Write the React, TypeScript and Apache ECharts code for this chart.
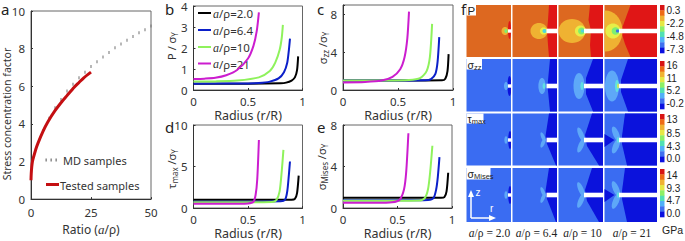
import React, { useEffect, useRef } from "react";
import * as echarts from "echarts";

const FONT = "Noto Sans";
const FFONT = "Liberation Sans";
const INK = "#333";

// Panel a
const mdRatio = [0,0.5,1,2,3.5,5,7.5,10,12.5,15,17.5,20,22.5,25,27.5,30,32.5,35,37.5,40,42.5,45,47.5,50];
const mdFactor = [1.1,1.9,2.2,2.65,3.15,3.65,4.3,4.85,5.3,5.75,6.1,6.45,6.75,7.05,7.3,7.55,7.8,8.05,8.25,8.45,8.65,8.85,9.0,9.2];
const testedRatio = [0,0.1,0.3,0.6,1,2,3,5,7,10,13,15,18,20,22,25];
const testedFactor = [1,1.35,1.7,2,2.2,2.65,3.0,3.6,4.1,4.7,5.2,5.5,5.95,6.2,6.45,6.75];

// Panels b-e: radius, value
const bBlack = [[0,0.3],[0.5,0.3],[0.8,0.32],[0.85,0.35],[0.9,0.45],[0.93,0.6],[0.95,0.95],[0.96,1.6]];
const bBlue = [[0,0.3],[0.5,0.31],[0.6,0.33],[0.7,0.4],[0.78,0.55],[0.83,0.85],[0.86,1.3],[0.875,1.9],[0.885,2.45]];
const bGreen = [[0,0.4],[0.2,0.41],[0.4,0.45],[0.6,0.6],[0.7,0.9],[0.75,1.3],[0.79,1.9],[0.81,2.5],[0.82,3.1]];
const bMagenta = [[0,0.52],[0.1,0.54],[0.2,0.58],[0.3,0.7],[0.4,0.95],[0.5,1.5],[0.55,2.1],[0.58,2.8],[0.6,3.7]];

const cBlack = [[0,1],[0.5,1],[0.9,1.02],[0.93,1.2],[0.95,2],[0.96,3.8]];
const cBlue = [[0,1],[0.5,1],[0.75,1.03],[0.8,1.15],[0.84,1.7],[0.86,3],[0.875,5.6]];
const cGreen = [[0,1],[0.4,1],[0.6,1.05],[0.7,1.25],[0.76,2],[0.79,3.5],[0.81,7]];
const cMagenta = [[0,0.8],[0.2,0.85],[0.35,1],[0.45,1.4],[0.52,2.2],[0.56,3.5],[0.585,5.5],[0.6,8.3]];

const dBlack = [[0,1],[0.5,1],[0.9,1],[0.93,1.1],[0.95,1.8],[0.965,3.9]];
const dBlue = [[0,0.75],[0.5,0.76],[0.8,0.8],[0.84,1],[0.86,2],[0.875,4],[0.885,5.6]];
const dGreen = [[0,0.7],[0.4,0.7],[0.72,0.73],[0.76,0.95],[0.79,2],[0.81,4.5],[0.825,7]];
const dMagenta = [[0,0.5],[0.3,0.5],[0.5,0.55],[0.55,0.75],[0.57,1.6],[0.585,3.5],[0.6,8.2]];

const eBlack = [[0,1],[0.5,1],[0.9,1],[0.93,1.05],[0.95,1.6],[0.965,3.4]];
const eBlue = [[0,0.75],[0.5,0.75],[0.78,0.78],[0.83,0.95],[0.855,1.8],[0.87,3],[0.885,4.9]];
const eGreen = [[0,0.7],[0.4,0.7],[0.7,0.72],[0.75,0.95],[0.78,1.8],[0.8,3.5],[0.82,6]];
const eMagenta = [[0,0.5],[0.3,0.5],[0.45,0.55],[0.52,0.8],[0.56,1.8],[0.58,3.5],[0.6,7.2]];

const ratioLabels = ["2.0", "6.4", "10", "21"];
const barLabels = [
  ["0.3", "-2.2", "-4.8", "-7.3"],
  ["16", "11", "5.2", "-0.2"],
  ["13", "8.5", "4.3", "0.0"],
  ["14", "9.3", "4.7", "0.0"],
];

const curveColors = ["#000000", "#0b1fc9", "#8ff25c", "#cc1dcf"];
const bands = ["#d81414", "#ee6a16", "#f0b232", "#e6e844", "#8ef064", "#50e0b4", "#50b0f8", "#4070f0", "#0a10e0"];

const ORANGE = "#dd6820", RED = "#e01616", YEL = "#efb232", LIME = "#e6ee48", GRN = "#7fee70", CY = "#50d8d8";
const BLUE = "#3a6cf2", DARK = "#0b12dc", SKY = "#5ea8f8", AQUA = "#5fe0e0";

const colsX = [[466.5, 511], [512.5, 557], [558.5, 603], [604.5, 657]];
const rowsY = [[5, 57], [59, 111.5], [113.5, 165.5], [168, 222]];
const crackY = [31, 86, 140, 195];
const tipX = [508, 546.5, 584, 619];

type Box = { x0: number; x1: number; y0: number; y1: number };
const clamp = (v: number, a: number, b: number) => Math.max(a, Math.min(b, v));
const poly = (points: number[][], fill: string) => ({ type: "polygon", silent: true, shape: { points }, style: { fill } });
const ell = (b: Box, cx: number, cy: number, rx: number, ry: number, fill: string, rot = 0) => {
  const pts: number[][] = [];
  const c = Math.cos(rot), s = Math.sin(rot);
  for (let i = 0; i < 36; i++) {
    const t = (i / 36) * Math.PI * 2;
    const ex = rx * Math.cos(t), ey = ry * Math.sin(t);
    pts.push([clamp(cx + ex * c - ey * s, b.x0, b.x1), clamp(cy + ex * s + ey * c, b.y0, b.y1)]);
  }
  return poly(pts, fill);
};
const region = (b: Box, edge: number[][], fill: string) =>
  poly([...edge, [b.x1, b.y1], [b.x1, b.y0]], fill);

function cellElements(r: number, c: number) {
  const b: Box = { x0: colsX[c][0], x1: colsX[c][1], y0: rowsY[r][0], y1: rowsY[r][1] };
  const cy = crackY[r], tx = tipX[c];
  const out: any[] = [];
  out.push({ type: "rect", silent: true, shape: { x: b.x0, y: b.y0, width: b.x1 - b.x0, height: b.y1 - b.y0 }, style: { fill: r === 0 ? ORANGE : BLUE } });
  if (r === 0) {
    if (c === 0) {
      out.push(ell(b, 509.5, cy - 1, 1.5, 9, RED));
      out.push(ell(b, 505, cy, 3.5, 4, YEL));
      out.push(ell(b, 506, cy, 1.6, 2, GRN));
    } else if (c === 1) {
      out.push(region(b, [[549, b.y0], [548, 20], [547, cy], [548, 45], [549, b.y1]], RED));
      out.push(ell(b, 539, cy, 8.5, 8, YEL));
      out.push(ell(b, 543.5, cy, 3.6, 3.6, LIME));
      out.push(ell(b, 544.5, cy, 2, 2, CY));
    } else if (c === 2) {
      out.push(region(b, [[590, b.y0], [588.5, 20], [591, cy], [590, 45], [591, b.y1]], RED));
      out.push(ell(b, 572, cy, 13.5, 12, YEL));
      out.push(ell(b, 580.5, cy, 5.6, 5.6, LIME));
      out.push(ell(b, 581.5, cy, 3.4, 3.4, GRN));
      out.push(ell(b, 582.5, cy, 1.6, 1.6, CY));
    } else {
      out.push(region(b, [[630.5, b.y0], [625, 20], [621, cy], [625, 44], [630.5, b.y1]], RED));
      out.push(ell(b, 605.5, cy, 17, 20.5, YEL));
      out.push(ell(b, 613, cy, 7.5, 7.5, LIME));
      out.push(ell(b, 615.5, cy, 3.8, 3.8, GRN));
      out.push(ell(b, 617.5, cy, 1.6, 1.6, "#3a70e8"));
    }
  } else if (r === 1) {
    if (c === 0) {
      out.push(ell(b, 509.5, cy, 2, 10, DARK));
      out.push(ell(b, 506, cy, 2, 4, SKY));
    } else if (c === 1) {
      out.push(region(b, [[550, b.y0], [547.5, cy], [550, b.y1]], DARK));
      out.push(ell(b, 542, cy, 3.6, 8, SKY));
      out.push(ell(b, 544, cy, 1.4, 3, AQUA));
    } else if (c === 2) {
      out.push(region(b, [[593, b.y0], [586, cy - 8], [586, cy + 8], [593, b.y1]], DARK));
      out.push(ell(b, 579, cy, 5.5, 13, SKY));
      out.push(ell(b, 582, cy, 1.6, 4, AQUA));
    } else {
      out.push(region(b, [[628, b.y0], [621, cy - 6], [621, cy + 6], [628, b.y1]], DARK));
      out.push(ell(b, 612, cy, 7, 15.5, SKY));
      out.push(ell(b, 617, cy, 2, 6, AQUA));
      out.push(ell(b, 618, cy, 0.8, 2.5, "#e6e844"));
    }
  } else {
    const k = r === 2 ? 1 : 1.05;
    if (c === 0) {
      out.push(ell(b, 510, cy, 1.8, 9, DARK));
      out.push(ell(b, 506, cy, 1.6, 3.8, SKY));
    } else if (c === 1) {
      out.push(region(b, [[549, b.y0], [545.5, cy - 4], [547, cy + 4], [b.x1 - 1, b.y1]], DARK));
      out.push(ell(b, 543, cy - 3, 1.8, 5 * k, SKY, -0.4));
      out.push(ell(b, 543, cy + 3, 1.8, 5 * k, SKY, 0.4));
    } else if (c === 2) {
      out.push(region(b, [[592, b.y0], [585, cy - 5], [587, cy + 6], [599, b.y1]], DARK));
      out.push(ell(b, 581, cy - 5.5, 2.6, 7.5 * k, SKY, -0.4));
      out.push(ell(b, 581, cy + 5.5, 2.6, 7.5 * k, SKY, 0.4));
    } else {
      out.push(region(b, [[625, b.y0], [622, cy - 4], [622, cy + 4], [627, b.y1]], DARK));
      out.push(poly([[b.x0, cy - 6], [b.x0, cy + 7], [614.5, cy]], DARK));
      out.push(ell(b, 616, cy - 6, 3, 8 * k, SKY, -0.4));
      out.push(ell(b, 616, cy + 6, 3, 8 * k, SKY, 0.4));
      out.push(ell(b, 618, cy, 1, 3, AQUA));
    }
  }
  const halfH = c === 0 ? 1.7 : 2.3;
  out.push({ type: "rect", silent: true, shape: { x: tx, y: cy - halfH, width: b.x1 - tx + 1, height: halfH * 2 }, style: { fill: "#fff" } });
  return out;
}

const txt = (text: string, x: number, y: number, fontSize: number, extra: any = {}) => ({
  type: "text",
  silent: true,
  x,
  y,
  ...(extra.rotation !== undefined ? { rotation: extra.rotation } : {}),
  style: {
    text,
    fontFamily: extra.fontFamily || FONT,
    fontSize,
    fill: extra.fill || INK,
    align: extra.align || "left",
    verticalAlign: "middle",
    lineHeight: extra.lineHeight,
    rich: extra.rich,
  },
});

const richAxis = {
  s: { fontFamily: FONT, fontSize: 8, fill: INK, padding: [6, 0, 0, 0] },
};
const richF = {
  s: { fontFamily: FFONT, fontSize: 7.5, fill: "#222", padding: [5, 0, 0, 0] },
};
const richRatio = {
  i: { fontFamily: "Liberation Serif", fontStyle: "italic", fontSize: 13, color: INK, fill: INK },
  p: { fontFamily: FONT, fontSize: 12, color: INK, fill: INK },
};
const richLegend = {
  i: { fontFamily: "Liberation Serif", fontStyle: "italic", fontSize: 12, fill: INK },
};
const richCol = {
  i: { fontFamily: "Liberation Serif", fontStyle: "italic", fontSize: 11.5, fill: "#222" },
};

function panel(
  idx: number,
  left: number,
  top: number,
  w: number,
  h: number,
  xMax: number,
  xInt: number,
  yMax: number,
  yInt: number,
  name: string,
  nameGapX: number,
  nameSize: number,
  labelMargin: number,
) {
  return {
    grid: { left, top, width: w, height: h, show: true, borderColor: "#666", borderWidth: 1, containLabel: false },
    xAxis: {
      gridIndex: idx, type: "value", min: 0, max: xMax, interval: xInt,
      name, nameLocation: "middle", nameGap: nameGapX,
      nameTextStyle: { fontFamily: FONT, fontSize: nameSize, lineHeight: 13, color: INK, rich: richRatio },
      axisLine: { show: true, lineStyle: { color: "#333", width: 1 } },
      axisTick: { show: true, inside: true, length: 2, lineStyle: { color: "#333" } },
      splitLine: { show: false },
      axisLabel: { fontFamily: FONT, fontSize: 11.5, lineHeight: 12, color: INK, margin: labelMargin, showMaxLabel: true },
    },
    yAxis: {
      gridIndex: idx, type: "value", min: 0, max: yMax, interval: yInt,
      axisLine: { show: true, lineStyle: { color: "#333", width: 1 } },
      axisTick: { show: true, inside: true, length: 2, lineStyle: { color: "#333" } },
      splitLine: { show: false },
      axisLabel: {
        fontFamily: FONT, fontSize: 11.5, color: INK, margin: 6,
        formatter: (v: number) => (Number.isInteger(v / yInt) ? String(v) : ""),
      },
    },
  };
}

const lineSeries = (idx: number, data: number[][], color: string, name: string) => ({
  type: "line", name, xAxisIndex: idx, yAxisIndex: idx, data, showSymbol: false, smooth: 0.25,
  clip: false, silent: true, lineStyle: { color, width: 2 },
});

export default function App() {
  const ref = useRef<HTMLDivElement>(null);
  useEffect(() => {
    const chart = echarts.init(ref.current!, undefined, { renderer: "svg" });
    const panels = [
      panel(0, 31, 11, 120, 198, 50, 25, 10, 2, "Ratio ({i|a}/{p|ρ})", 20, 12, 7),
      panel(1, 193.5, 5, 109, 85, 1, 0.5, 4, 1, "Radius (r/R)", 19, 12.5, 5),
      panel(2, 343, 5, 110, 85, 1, 0.5, 9, 4, "Radius (r/R)", 19, 12.5, 5),
      panel(3, 193.5, 125, 109, 85, 1, 0.5, 10, 5, "Radius (r/R)", 19, 12.5, 5),
      panel(4, 343, 125, 109, 85, 1, 0.5, 8, 4, "Radius (r/R)", 19, 12.5, 5),
    ];
    const sets = [
      [bBlack, bBlue, bGreen, bMagenta],
      [cBlack, cBlue, cGreen, cMagenta],
      [dBlack, dBlue, dGreen, dMagenta],
      [eBlack, eBlue, eGreen, eMagenta],
    ];
    const series: any[] = [
      {
        type: "scatter", name: "MD samples", xAxisIndex: 0, yAxisIndex: 0, silent: true, clip: false,
        data: mdRatio.map((x, i) => [x, mdFactor[i]]),
        symbol: "rect", symbolSize: [1.3, 3], itemStyle: { color: "#777" },
      },
      {
        type: "line", name: "Tested samples", xAxisIndex: 0, yAxisIndex: 0, silent: true, clip: false, showSymbol: false,
        data: testedRatio.map((x, i) => [x, testedFactor[i]]),
        lineStyle: { color: "#c40f12", width: 3 }, smooth: 0.2,
      },
    ];
    sets.forEach((set, p) => set.forEach((d, i) => series.push(lineSeries(p + 1, d, curveColors[i], `a/ρ=${ratioLabels[i]}`))));

    const graphic: any[] = [];
    // panel letters
    [["a", 1, 8.5], ["b", 165, 8.5], ["c", 317, 8.5], ["d", 165, 127], ["e", 317, 127], ["f", 461, 8.5]].forEach(([t, x, y]) =>
      graphic.push(txt(t as string, x as number, y as number, 15, { fill: "#222", lineHeight: 16 })),
    );
    // y-axis titles
    const R90 = Math.PI / 2;
    graphic.push(txt("Stress concentration factor", 7, 114, 10.5, { rotation: R90, align: "center" }));
    graphic.push(txt("P / σ{s|Y}", 171, 46, 11, { rotation: R90, align: "center", rich: richAxis }));
    graphic.push(txt("σ{s|zz} /σ{s|Y}", 322, 48, 11, { rotation: R90, align: "center", rich: richAxis }));
    graphic.push(txt("τ{s|max} /σ{s|Y}", 171, 169, 11, { rotation: R90, align: "center", rich: richAxis }));
    graphic.push(txt("σ{s|Mises} /σ{s|Y}", 321, 167, 11, { rotation: R90, align: "center", rich: richAxis }));
    // panel a legend
    [0, 1, 2].forEach((i) =>
      graphic.push({ type: "rect", silent: true, shape: { x: 45.5 + i * 5, y: 158.5, width: 1.3, height: 3 }, style: { fill: "#777" } }),
    );
    graphic.push(txt("MD samples", 63, 160, 11));
    graphic.push({ type: "line", silent: true, shape: { x1: 46, y1: 184.5, x2: 59, y2: 184.5 }, style: { stroke: "#c40f12", lineWidth: 3 } });
    graphic.push(txt("Tested samples", 60, 185, 11));
    // panel b legend
    ratioLabels.forEach((l, i) => {
      const y = [13, 30, 47, 63.5][i];
      graphic.push({ type: "line", silent: true, shape: { x1: 198, y1: y, x2: 211, y2: y }, style: { stroke: curveColors[i], lineWidth: 2 } });
      graphic.push(txt(`{i|a}/ρ=${l}`, 213, y + 0.5, 11.5, { rich: richLegend }));
    });
    // panel f cells
    for (let r = 0; r < 4; r++) for (let c = 0; c < 4; c++) graphic.push(...cellElements(r, c));
    // panel f labels
    graphic.push({ type: "rect", silent: true, shape: { x: 466.5, y: 5, width: 9.5, height: 10.5 }, style: { fill: "#fff" } });
    graphic.push(txt("P", 467.5, 10.5, 11.5, { fill: "#222", fontFamily: FFONT, lineHeight: 11 }));
    graphic.push({ type: "rect", silent: true, shape: { x: 466.5, y: 59, width: 15.5, height: 10.5 }, style: { fill: "#fff" } });
    graphic.push(txt("σ{s|zz}", 467.5, 64.5, 10.5, { rich: richF, fill: "#222", fontFamily: FFONT }));
    graphic.push({ type: "rect", silent: true, shape: { x: 466.5, y: 113.5, width: 17, height: 10 }, style: { fill: "#fff" } });
    graphic.push(txt("τ{s|max}", 467.5, 118.5, 10.5, { rich: richF, fill: "#222", fontFamily: FFONT }));
    graphic.push({ type: "rect", silent: true, shape: { x: 466.5, y: 168, width: 24, height: 11.5 }, style: { fill: "#fff" } });
    graphic.push(txt("σ{s|Mises}", 467.5, 174, 10.5, { rich: richF, fill: "#222", fontFamily: FFONT }));
    // axes arrows
    graphic.push({ type: "line", silent: true, shape: { x1: 471, y1: 218, x2: 471, y2: 193 }, style: { stroke: "#fff", lineWidth: 1.5 } });
    graphic.push({ type: "line", silent: true, shape: { x1: 471, y1: 218, x2: 493, y2: 218 }, style: { stroke: "#fff", lineWidth: 1.5 } });
    graphic.push(poly([[471, 190], [468, 197], [474, 197]], "#fff"));
    graphic.push(poly([[496, 218], [489, 215], [489, 221]], "#fff"));
    graphic.push(txt("z", 475.5, 192.5, 10, { fill: "#fff", fontFamily: FFONT }));
    graphic.push(txt("r", 490, 208, 10, { fill: "#fff", fontFamily: FFONT }));
    // colourbars
    const barTop = [5, 61, 114, 169];
    const labelY = [[10, 23, 36, 49], [65, 78, 90, 103], [119, 133, 146, 158], [175, 188, 200, 213]];
    barLabels.forEach((labels, r) => {
      bands.forEach((col, i) => {
        graphic.push({ type: "rect", silent: true, shape: { x: 660, y: barTop[r] + (i * 48) / bands.length, width: 4.5, height: 48 / bands.length + 0.3 }, style: { fill: col } });
      });
      labels.forEach((l, i) => graphic.push(txt(l, 666.5, labelY[r][i], 10, { fill: "#222", fontFamily: FFONT, lineHeight: 11 })));
    });
    graphic.push(txt("GPa", 662, 230, 10.5, { fill: "#222", fontFamily: FFONT, lineHeight: 11 }));
    // column captions
    [489.5, 536.5, 582.5, 632].forEach((x, i) =>
      graphic.push(txt(`{i|a}/ρ = ${ratioLabels[i]}`, x, 233, 11.5, { align: "center", fontFamily: "Liberation Serif", fill: "#222", rich: richCol })),
    );

    chart.setOption({
      animation: false,
      backgroundColor: "#fff",
      grid: panels.map((p) => p.grid),
      xAxis: panels.map((p) => p.xAxis),
      yAxis: panels.map((p) => p.yAxis),
      series,
      graphic: { elements: graphic },
    });
    return () => chart.dispose();
  }, []);
  return <div ref={ref} style={{ position: "fixed", left: 0, top: 0, width: 685, height: 241 }} />;
}
